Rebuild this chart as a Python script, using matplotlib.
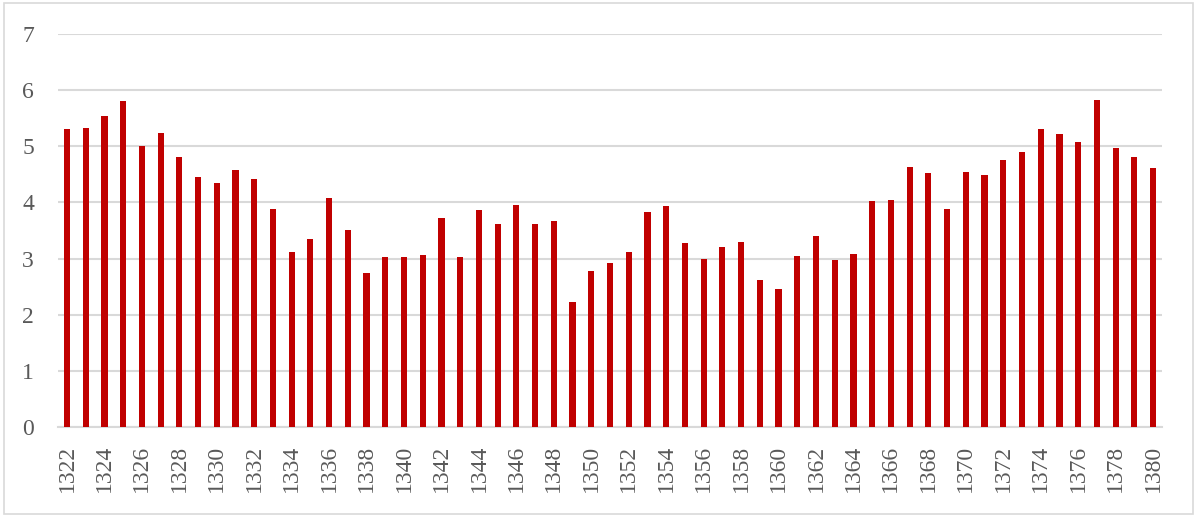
import matplotlib
matplotlib.use('Agg')
import matplotlib.pyplot as plt
from matplotlib.patches import Rectangle

# years on the x axis
years = list(range(1322, 1381))
# bar heights
values = [5.31, 5.33, 5.54, 5.80, 5.01, 5.23, 4.81, 4.45, 4.35, 4.57,
          4.42, 3.88, 3.12, 3.34, 4.08, 3.51, 2.74, 3.02, 3.03, 3.06,
          3.72, 3.03, 3.87, 3.62, 3.95, 3.62, 3.67, 2.22, 2.77, 2.92,
          3.12, 3.83, 3.94, 3.27, 3.00, 3.20, 3.29, 2.62, 2.46, 3.04,
          3.41, 2.98, 3.09, 4.02, 4.04, 4.63, 4.52, 3.89, 4.54, 4.49,
          4.76, 4.90, 5.31, 5.21, 5.07, 5.83, 4.97, 4.81, 4.61]
y_ticks = [0, 1, 2, 3, 4, 5, 6, 7]

plt.rcParams['font.family'] = ['Liberation Serif', 'DejaVu Serif']
fontsize = 17
text_col = '#595959'
grid_col = '#D9D9D9'

fig = plt.figure(figsize=(12, 5.18), dpi=100)
ax = fig.add_axes([0.048, 0.1757, 0.9207, 0.7587])

x = list(range(len(years)))
ax.bar(x, values, width=0.33, color='#C00000', zorder=3)

ax.set_xlim(-0.5, len(years) - 0.5)
ax.set_ylim(0, 7)
ax.set_yticks(y_ticks)
ax.set_yticklabels([str(t) for t in y_ticks])
ax.set_xticks(x[::2])
ax.set_xticklabels([str(y) for y in years[::2]], rotation=90)

ax.yaxis.grid(True, color=grid_col, linewidth=1.5, zorder=0)
ax.tick_params(axis='both', length=0, labelsize=fontsize, labelcolor=text_col)
ax.tick_params(axis='y', pad=17)
ax.tick_params(axis='x', pad=13)
for side in ['top', 'right', 'left']:
    ax.spines[side].set_visible(False)
ax.spines['bottom'].set_color(grid_col)
ax.spines['bottom'].set_linewidth(1.5)

# light border round the whole chart
fig.patches.append(Rectangle((0.003, 0.008), 0.991, 0.986, transform=fig.transFigure,
                             fill=False, edgecolor=grid_col, linewidth=1.2))

fig.savefig('out.png', dpi=100)
